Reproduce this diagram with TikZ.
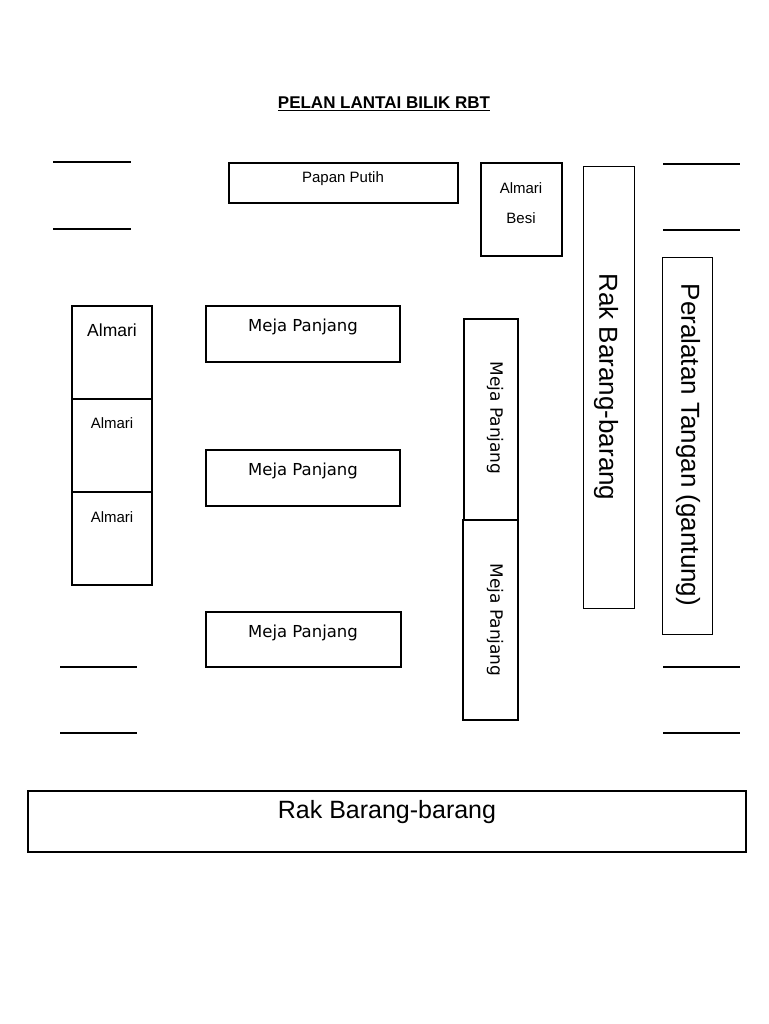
\documentclass[tikz,border=0pt]{standalone}
\usepackage{fontspec}
\setmainfont{Liberation Sans}
\newfontfamily\mejafont{DejaVu Sans}
\begin{document}
\begin{tikzpicture}[x=1pt,y=-1pt,
  box/.style={draw,line width=1.6pt},
  thinbox/.style={draw,line width=0.8pt},
  seg/.style={line width=1.2pt},
  meja/.style={font=\mejafont\fontsize{16.5}{19}\selectfont}]
\useasboundingbox (0,0) rectangle (768,1024);
\node (title) at (384,104) {\fontsize{17}{20}\selectfont\bfseries\underline{PELAN LANTAI BILIK RBT}};
% short lines
\coordinate (l1a) at (53,162); \coordinate (l1b) at (131,162);
\coordinate (l2a) at (53,229); \coordinate (l2b) at (131,229);
\coordinate (r1a) at (663,164); \coordinate (r1b) at (740,164);
\coordinate (r2a) at (663,230); \coordinate (r2b) at (740,230);
\coordinate (l3a) at (60,667); \coordinate (l3b) at (137,667);
\coordinate (l4a) at (60,733); \coordinate (l4b) at (137,733);
\coordinate (r3a) at (663,667); \coordinate (r3b) at (740,667);
\coordinate (r4a) at (663,733); \coordinate (r4b) at (740,733);
\draw[seg] (l1a)--(l1b); \draw[seg] (l2a)--(l2b);
\draw[seg] (r1a)--(r1b); \draw[seg] (r2a)--(r2b);
\draw[seg] (l3a)--(l3b); \draw[seg] (l4a)--(l4b);
\draw[seg] (r3a)--(r3b); \draw[seg] (r4a)--(r4b);
% boxes
\draw[box] (229,163) rectangle (458,203);
\node (pp) at (343,179) {\fontsize{15}{17}\selectfont Papan Putih};
\draw[box] (481,163) rectangle (562,256);
\node (ab1) at (521,188) {\fontsize{15}{17}\selectfont Almari};
\node (ab2) at (521,218) {\fontsize{15}{17}\selectfont Besi};
\draw[thinbox] (583,166) rectangle (634,608);
\node[rotate=-90] (rak1) at (606,387) {\fontsize{26}{30}\selectfont Rak Barang-barang};
\draw[thinbox] (662,257) rectangle (712,634);
\node[rotate=-90] (pt) at (688,445) {\fontsize{26}{30}\selectfont Peralatan Tangan (gantung)};
\draw[box] (72,306) rectangle (152,399);
\draw[box] (72,399) rectangle (152,492);
\draw[box] (72,492) rectangle (152,585);
\node (a1) at (112,330) {\fontsize{17.5}{20}\selectfont Almari};
\node (a2) at (112,423) {\fontsize{15}{17}\selectfont Almari};
\node (a3) at (112,517) {\fontsize{15}{17}\selectfont Almari};
\draw[box] (206,306) rectangle (400,362);
\node[meja] (m1) at (303,327) {Meja Panjang};
\draw[box] (206,450) rectangle (400,506);
\node[meja] (m2) at (303,471) {Meja Panjang};
\draw[box] (206,612) rectangle (401,667);
\node[meja] (m3) at (303,633) {Meja Panjang};
\draw[box] (464,319) rectangle (518,520);
\node[rotate=-90,font=\mejafont\fontsize{17}{19}\selectfont] (m4) at (495,418) {Meja Panjang};
\draw[box] (463,520) rectangle (518,720);
\node[rotate=-90,font=\mejafont\fontsize{17}{19}\selectfont] (m5) at (495,620) {Meja Panjang};
\draw[box] (28,791) rectangle (746,852);
\node (rak2) at (387,812) {\fontsize{25}{29}\selectfont Rak Barang-barang};
\end{tikzpicture}
\end{document}
